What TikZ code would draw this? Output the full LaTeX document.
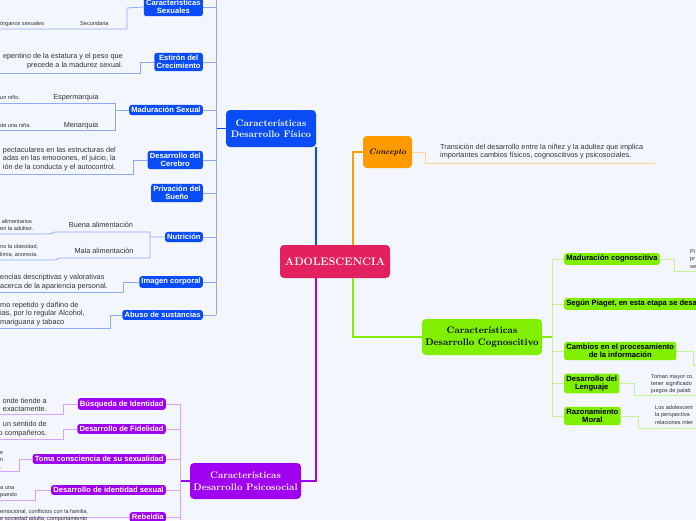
\documentclass[tikz,border=0pt]{standalone}
\usepackage{fontspec}
\setsansfont{Liberation Sans}
\begin{document}
\begin{tikzpicture}[x=1pt,y=-1pt,
  base/.style={rounded corners=2.5pt,text=white,align=center,inner sep=2.2pt,font=\sffamily\bfseries\fontsize{7.6}{8.4}\selectfont},
  bnode/.style={base,fill=BlueN},
  gnode/.style={base,fill=GreenN,text=black},
  pnode/.style={base,fill=PurpN},
  note/.style={font=\sffamily\fontsize{7.3}{8.3}\selectfont,text=black!80,inner sep=0pt,align=right},
  snote/.style={font=\sffamily\fontsize{5.6}{7.4}\selectfont,text=black!80,inner sep=0pt},
  bl/.style={draw=BlueL,line width=0.8pt},
  pl/.style={draw=PurpL,line width=0.8pt},
  gl/.style={draw=GreenL,line width=0.8pt},
  main/.style={rounded corners=4pt,text=white,align=center,font=\bfseries\fontsize{9.5}{11.5}\selectfont}]
\definecolor{BlueN}{HTML}{0A4CF5}\definecolor{BlueL}{HTML}{8FAAF5}
\definecolor{GreenN}{HTML}{80F000}\definecolor{GreenL}{HTML}{C6F39A}
\definecolor{PurpN}{HTML}{A000F0}\definecolor{PurpL}{HTML}{D9A2F5}
\definecolor{OrN}{HTML}{FF9A00}\definecolor{OrL}{HTML}{FFD29A}
\definecolor{Red}{HTML}{E3215F}
\useasboundingbox (0,0) rectangle (696,520);
\fill[fill={rgb,255:red,243;green,246;blue,253}] (0,0) rectangle (696,520);
\clip (0,0) rectangle (696,520);
% main nodes
\node[main,fill=Red,minimum width=110pt,minimum height=33pt,font=\bfseries\fontsize{11}{12}\selectfont] (ad) at (335,261.5) {ADOLESCENCIA};
\node[main,fill=BlueN,minimum width=90pt,minimum height=37pt] (fis) at (271,128.5) {Características\\Desarrollo Físico};
\node[main,fill=OrN,text=black,minimum width=49pt,minimum height=32pt,font=\itshape\bfseries\fontsize{8}{9}\selectfont] (con) at (387.5,152) {Concepto};
\node[main,fill=GreenN,text=black,minimum width=118pt,minimum height=36pt] (cog) at (482,337) {Características\\Desarrollo Cognoscitivo};
\node[main,fill=PurpN,minimum width=111pt,minimum height=36pt] (psi) at (245.5,481) {Características\\Desarrollo Psicosocial};
% main connectors
\draw[draw=BlueN,line width=1.3pt] (316,245) -- (316,147);
\draw[draw=OrN,line width=1.3pt] (353,245) -- (353,152) -- (con.west);
\draw[draw=GreenN,line width=1.3pt] (353,278) -- (353,337) -- (cog.west);
\draw[draw=PurpN,line width=1.3pt] (316,278) -- (316,481) -- (psi.east);
% concept note
\draw[draw=OrL,line width=0.8pt] (con.east) -- (425,152) -- (425,163) -- (655,163);
\node[note,align=left,anchor=north west] (cn) at (440,143.5) {Transición del desarrollo entre la niñez y la adultez que implica\\importantes cambios físicos, cognoscitivos y psicosociales.};
% blue branch
\draw[draw=BlueN,line width=1.3pt] (fis.west) -- (216,128.5);
\draw[bl] (216,0) -- (216,315);
\node[bnode,anchor=east] (b1) at (203,7) {Características\\Sexuales};
\node[bnode,anchor=east] (b2) at (203,62) {Estirón del\\Crecimiento};
\node[bnode,anchor=east] (b3) at (203,110) {Maduración Sexual};
\node[bnode,anchor=east] (b4) at (203,160) {Desarrollo del\\Cerebro};
\node[bnode,anchor=east] (b5) at (203,193) {Privación del\\Sueño};
\node[bnode,anchor=east] (b6) at (203,237) {Nutrición};
\node[bnode,anchor=east] (b7) at (203,282) {Imagen corporal};
\node[bnode,anchor=east] (b8) at (203,315) {Abuso de sustancias};
\foreach \n in {b1,b2,b3,b4,b5,b6,b7,b8} \draw[bl] (\n.east) -- (216,0 |- \n.east);
\draw[bl] (b1.west) -- (127,8) -- (127,29) -- (0,29);
\node[snote,anchor=base west] (t1a) at (0,25.5) {órganos sexuales};
\node[snote,anchor=base west] (t1b) at (80,25.5) {Secundaria};
\draw[bl] (b2.west) -- (140,62) -- (140,73) -- (0,73);
\node[note,anchor=south east] (t2) at (123,69) {epentino de la estatura y el peso que\\precede a la madurez sexual.};
\draw[bl] (b3.west) -- (115,110) -- (115,103) -- (0,103);
\draw[bl] (115,110) -- (115,130) -- (0,130);
\node[snote,anchor=base west] (t3a) at (0,99) {un niño.};
\node[note,anchor=base] (t3b) at (76,99) {Espermarquia};
\node[snote,anchor=base west] (t3c) at (0,127) {de una niña.};
\node[note,anchor=base] (t3d) at (81,127) {Menarquia};
\draw[bl] (b4.west) -- (133,160) -- (133,174) -- (0,174);
\node[note,anchor=south east,align=left] (t4) at (116,171) {pectaculares en las estructuras del\\adas en las emociones, el juicio, la\\ión de la conducta y el autocontrol.};
\draw[bl] (b6.west) -- (150,237) -- (150,232) -- (55,232) -- (50,234) -- (0,234);
\draw[bl] (150,237) -- (150,258) -- (60,258) -- (55,260) -- (0,260);
\node[snote,anchor=south west,align=left] (t6a) at (0,231) {\ alimentarios\\en la adultez.};
\node[note,anchor=base] (t6b) at (101,227) {Buena alimentación};
\node[snote,anchor=south west,align=left] (t6c) at (0,257) {no la obesidad,\\limia, anorexia.};
\node[note,anchor=base] (t6d) at (104,253) {Mala alimentación};
\draw[bl] (b7.west) -- (123,282) -- (123,292) -- (0,292);
\node[note,anchor=south west,align=left] (t7) at (0,290) {encias descriptivas y valorativas\\acerca de la apariencia personal.};
\draw[bl] (b8.west) -- (110,315) -- (110,328) -- (0,328);
\node[note,anchor=south west,align=left] (t8) at (0,326) {mo repetido y dañino de\\ias, por lo regular Alcohol,\\mariguana y tabaco};
% green branch
\draw[draw=GreenN,line width=1.3pt] (cog.east) -- (552,337);
\draw[gl] (552,259) -- (552,416);
\node[gnode,anchor=west] (g1) at (564,259) {Maduración cognoscitiva};
\node[gnode,anchor=west] (g2) at (564,304) {Según Piaget, en esta etapa se desarrolla};
\node[gnode,anchor=west] (g3) at (564,351) {Cambios en el procesamiento\\de la información};
\node[gnode,anchor=west] (g4) at (564,383.5) {Desarrollo del\\Lenguaje};
\node[gnode,anchor=west] (g5) at (564,416) {Razonamiento\\Moral};
\foreach \n in {g1,g2,g3,g4,g5} \draw[gl] (552,0 |- \n.west) -- (\n.west);
\draw[gl] (g1.east) -- (674,259) -- (674,271) -- (696,271);
\node[snote,anchor=north west,align=left] (tg1) at (690,249) {Pi\\pr\\se};
\draw[gl] (g3.east) -- (693,351) -- (693,365) -- (696,365);
\draw[gl] (g4.east) -- (634,383.5) -- (634,395) -- (696,395);
\node[snote,anchor=north west,align=left] (tg4) at (651,374) {Toman mayor co\\tener significado\\juegos de palab};
\draw[gl] (g5.east) -- (638,416) -- (638,428) -- (696,428);
\node[snote,anchor=north west,align=left] (tg5) at (655,405) {Los adolescent\\la perspectiva\\relaciones inter};
% purple branch
\draw[draw=PurpN,line width=1.3pt] (psi.west) -- (180,481);
\draw[pl] (180,404) -- (180,520);
\node[pnode,anchor=east] (p1) at (166,404) {Búsqueda de Identidad};
\node[pnode,anchor=east] (p2) at (166,429) {Desarrollo de Fidelidad};
\node[pnode,anchor=east] (p3) at (166,459) {Toma consciencia de su sexualidad};
\node[pnode,anchor=east] (p4) at (166,490) {Desarrollo de identidad sexual};
\node[pnode,anchor=north east] (p5) at (166,512) {Rebeldía};
\foreach \n in {p1,p2,p3,p4,p5} \draw[pl] (\n.east) -- (180,0 |- \n.east);
\draw[pl] (p1.west) -- (63,404) -- (63,414) -- (0,414);
\node[note,anchor=south east] (tp1) at (47,412) {onde tiende a\\exactamente.};
\draw[pl] (p2.west) -- (63,429) -- (63,439) -- (0,439);
\node[note,anchor=south east] (tp2) at (47,437) {un sentido de\\o compañeros.};
\draw[pl] (p3.west) -- (19,459) -- (19,471) -- (0,471);
\node[snote,anchor=south west,align=left] (tp3) at (0,469) {e\\n\\.};
\draw[pl] (p4.west) -- (35,490) -- (35,500) -- (0,500);
\node[snote,anchor=south west,align=left] (tp4) at (0,498) {a una\\puesto};
\draw[pl] (p5.west) -- (115,0 |- p5.west) -- (0,0 |- p5.west);
\node[snote,anchor=north west,align=left] (tp5) at (0,509) {emocional, conflictos con la familia,\\e sociedad adulta, comportamiento};
\end{tikzpicture}
\end{document}
